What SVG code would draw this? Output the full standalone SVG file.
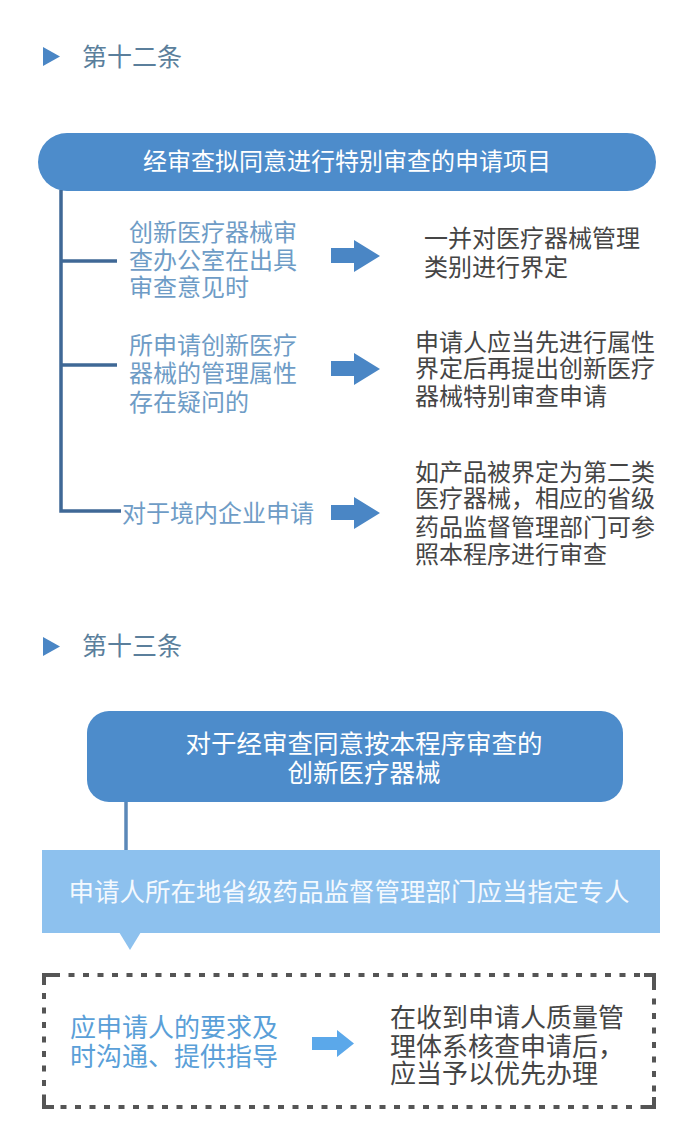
<svg xmlns="http://www.w3.org/2000/svg" width="700" height="1129" viewBox="0 0 700 1129">
<style>
text{font-family:"Noto Sans CJK SC","Noto Sans",sans-serif;}
.hd{font-size:25px;fill:#5b7f9c;}
.tri{fill:#4a86c5;}
.pill{fill:#4d8ccb;}
.wt{fill:#ffffff;font-size:24px;}
.lt{fill:#6e9cc6;font-size:24px;}
.rt{fill:#454545;font-size:24px;}
.arr{fill:#4a86c5;}
.trunk{stroke:#3f6896;stroke-width:3.5;fill:none;}
</style>
<rect width="700" height="1129" fill="#ffffff"/>

<g id="header12">
<polygon class="tri" points="43,47 60,56.5 43,66"/>
<text class="hd" x="82" y="66">第十二条</text>
</g>

<g id="title12">
<rect class="pill" x="38" y="133" width="618" height="58" rx="29"/>
<text class="wt" x="347" y="170" text-anchor="middle">经审查拟同意进行特别审查的申请项目</text>
</g>

<g id="connectors">
<polyline class="trunk" points="61,190 61,511 121,511"/>
<line class="trunk" x1="61" y1="261" x2="117" y2="261"/>
<line class="trunk" x1="61" y1="365" x2="117" y2="365"/>
<line x1="126" y1="802" x2="126" y2="851" stroke="#5b88b8" stroke-width="3.5"/>
<polygon class="arr" points="331,248 354,248 354,240 380,256 354,272 354,263 331,263"/>
<polygon class="arr" points="331,361 354,361 354,353 380,369 354,385 354,376 331,376"/>
<polygon class="arr" points="331,505 354,505 354,497 380,513 354,529 354,520 331,520"/>
<polygon fill="#5ba8ea" points="312,1037 337,1037 337,1030 354,1043.5 337,1057 337,1050 312,1050"/>
</g>

<g id="b1left">
<text class="lt" x="129" y="241">创新医疗器械审</text>
<text class="lt" x="129" y="269">查办公室在出具</text>
<text class="lt" x="129" y="296">审查意见时</text>
</g>
<g id="b1right">
<text class="rt" x="424" y="247">一并对医疗器械管理</text>
<text class="rt" x="424" y="276">类别进行界定</text>
</g>

<g id="b2left">
<text class="lt" x="129" y="354">所申请创新医疗</text>
<text class="lt" x="129" y="382">器械的管理属性</text>
<text class="lt" x="129" y="411">存在疑问的</text>
</g>
<g id="b2right">
<text class="rt" x="415" y="351">申请人应当先进行属性</text>
<text class="rt" x="415" y="377">界定后再提出创新医疗</text>
<text class="rt" x="415" y="405">器械特别审查申请</text>
</g>

<g id="b3left">
<text class="lt" x="122" y="522">对于境内企业申请</text>
</g>
<g id="b3right">
<text class="rt" x="415" y="481">如产品被界定为第二类</text>
<text class="rt" x="415" y="507">医疗器械，相应的省级</text>
<text class="rt" x="415" y="536">药品监督管理部门可参</text>
<text class="rt" x="415" y="563">照本程序进行审查</text>
</g>

<g id="header13">
<polygon class="tri" points="43,637 60,646.5 43,656"/>
<text class="hd" x="82" y="655">第十三条</text>
</g>

<g id="title13">
<rect class="pill" x="87" y="711" width="536" height="91" rx="22"/>
<text class="wt" x="364" y="753" text-anchor="middle" style="font-size:25.5px">对于经审查同意按本程序审查的</text>
<text class="wt" x="364" y="782" text-anchor="middle" style="font-size:25.5px">创新医疗器械</text>
</g>

<g id="assign">
<rect x="42" y="850" width="618" height="83" fill="#8dc1ee"/>
<polygon points="119,932 141,932 130,950" fill="#8dc1ee"/>
<text x="349" y="901" text-anchor="middle" fill="#f4f9fe" style="font-size:25.5px">申请人所在地省级药品监督管理部门应当指定专人</text>
</g>

<g id="dashbox">
<rect x="44" y="975" width="610" height="132" fill="none" stroke="#555555" stroke-width="4" stroke-dasharray="6 8.5" stroke-dashoffset="-10"/>
<polyline points="44,985 44,975 54,975" fill="none" stroke="#555555" stroke-width="4"/>
<polyline points="644,975 654,975 654,985" fill="none" stroke="#555555" stroke-width="4"/>
<polyline points="44,1097 44,1107 54,1107" fill="none" stroke="#555555" stroke-width="4"/>
<polyline points="644,1107 654,1107 654,1097" fill="none" stroke="#555555" stroke-width="4"/>
</g>

<g id="bleft">
<text x="70" y="1037" fill="#5a9fd8" style="font-size:26px">应申请人的要求及</text>
<text x="70" y="1066" fill="#5a9fd8" style="font-size:26px">时沟通、提供指导</text>
</g>
<g id="bright">
<text x="390" y="1027" fill="#454545" style="font-size:26px">在收到申请人质量管</text>
<text x="390" y="1056" fill="#454545" style="font-size:26px">理体系核查申请后，</text>
<text x="390" y="1083" fill="#454545" style="font-size:26px">应当予以优先办理</text>
</g>
</svg>
